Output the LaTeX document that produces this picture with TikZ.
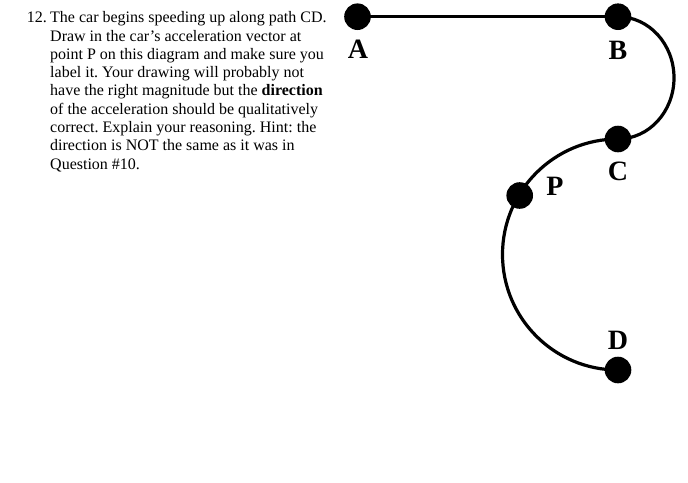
\documentclass[tikz,border=0pt]{standalone}
\usepackage{fontspec}
\setmainfont{Liberation Serif}
\frenchspacing
\begin{document}
\begin{tikzpicture}[x=1pt,y=-1pt,
  txt/.style={anchor=base west,inner sep=0pt,font=\fontsize{16}{18.3}\selectfont},
  lbl/.style={inner sep=0pt,font=\fontsize{28}{32}\selectfont\bfseries},
  dot/.style={circle,fill=black,minimum size=26.6pt,inner sep=0pt},
  path/.style={line width=3.2pt}]
\useasboundingbox (0,0) rectangle (688,482);
% question text
\node[txt] (n12) at (26.7,22.7) {12.};
\node[txt] (t1) at (50,22.7) {The car begins speeding up along path CD.};
\node[txt] (t2) at (50,41.0) {Draw in the car’s acceleration vector at};
\node[txt] (t3) at (50,59.3) {point P on this diagram and make sure you};
\node[txt] (t4) at (50,77.6) {label it. Your drawing will probably not};
\node[txt] (t5) at (50,95.9) {have the right magnitude but the \textbf{direction}};
\node[txt] (t6) at (50,114.2) {of the acceleration should be qualitatively};
\node[txt] (t7) at (50,132.5) {correct. Explain your reasoning. Hint: the};
\node[txt] (t8) at (50,150.8) {direction is NOT the same as it was in};
\node[txt] (t9) at (50,169.1) {Question \#10.};
% points
\coordinate (A) at (357.5,16.7);
\coordinate (B) at (618,16.7);
\coordinate (C) at (618,139);
\coordinate (P) at (519.7,195.5);
\coordinate (D) at (618,370);
% path
\draw[path] (A) -- (B);
\draw[path] (B) arc[start angle=90,end angle=-90,x radius=56pt,y radius=61.15pt];
\draw[path] (C) arc[start angle=90,end angle=270,radius=115.5pt];
% dots
\node[dot] (dA) at (A) {};
\node[dot] (dB) at (B) {};
\node[dot] (dC) at (C) {};
\node[dot] (dP) at (P) {};
\node[dot] (dD) at (D) {};
% labels
\node[lbl] (lA) at (358,49) {A};
\node[lbl] (lB) at (618,50) {B};
\node[lbl] (lC) at (618,171) {C};
\node[lbl] (lP) at (555,186) {P};
\node[lbl] (lD) at (618,340) {D};
\end{tikzpicture}
\end{document}
